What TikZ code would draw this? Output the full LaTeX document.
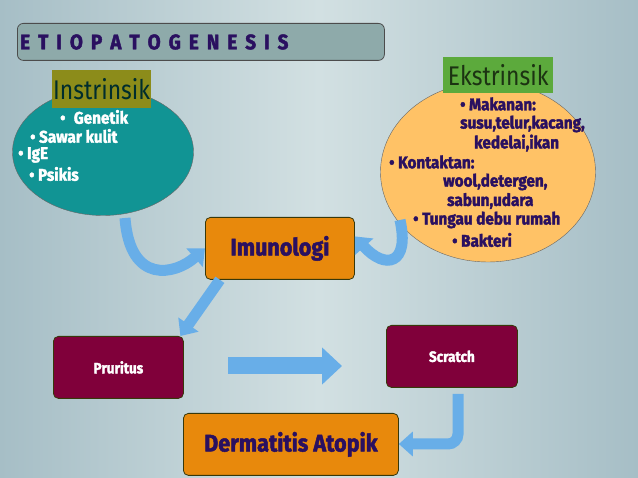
\documentclass[tikz,border=0pt]{standalone}
\usepackage{fontspec}
\setmainfont{Fira Sans}[BoldFeatures={FakeBold=2,FakeStretch=0.9},FakeStretch=0.85]
\usetikzlibrary{arrows.meta,shapes.geometric}
\definecolor{bgA}{HTML}{A6BEC6}
\definecolor{bgB}{HTML}{D2E0E2}
\definecolor{ttl}{HTML}{2A1060}
\definecolor{barc}{HTML}{8EAAAA}
\definecolor{olive}{HTML}{8C8C1A}
\definecolor{teal2}{HTML}{119494}
\definecolor{grn}{HTML}{5CAA3C}
\definecolor{peach}{HTML}{FFC266}
\definecolor{orng}{HTML}{E8890C}
\definecolor{maroon}{HTML}{80003A}
\definecolor{arr}{HTML}{68AEE8}
\tikzset{
 box/.style={draw=black!60!olive,line width=0.8pt,rounded corners=5pt,anchor=north west,inner sep=0pt},
 obox/.style={box,fill=orng},
 mbox/.style={box,fill=maroon},
 btxt/.style={text=ttl,font=\bfseries\fontsize{24}{24}\selectfont},
 mtxt/.style={text=white,font=\bfseries\fontsize{15}{15}\selectfont},
 barrow/.style={arr,line width=11pt,-{Triangle[width=24pt,length=14pt]}},
 wt/.style={text=white,font=\bfseries\fontsize{17}{17}\selectfont,anchor=west,inner sep=0pt},
 dt/.style={text=ttl,font=\bfseries\fontsize{17}{17}\selectfont,anchor=west,inner sep=0pt},
}
\begin{document}
\begin{tikzpicture}[x=1pt,y=-1pt]
\shade[left color=bgA,right color=bgA,middle color=bgB] (0,0) rectangle (638,478);
\useasboundingbox (0,0) rectangle (638,478);
% title
\node[draw=black!70,line width=0.8pt,fill=barc,rounded corners=6pt,anchor=north west,minimum width=367pt,minimum height=37pt,inner sep=0pt] (bar) at (17,23) {};
\node[anchor=west,inner sep=0pt,text=ttl,font=\bfseries\fontsize{21}{21}\selectfont] (ttl) at (20,42) {E\hspace{8pt}T\hspace{8pt}I\hspace{8pt}O\hspace{8pt}P\hspace{8pt}A\hspace{8pt}T\hspace{8pt}O\hspace{8pt}G\hspace{8pt}E\hspace{8pt}N\hspace{8pt}E\hspace{8pt}S\hspace{8pt}I\hspace{8pt}S};
% intrinsik
\node[ellipse,draw=black!60,fill=teal2,minimum width=181pt,minimum height=127pt] (ei) at (103,152) {};
\node[fill=olive,anchor=north west,minimum width=99pt,minimum height=38pt,inner sep=0pt,text=black!65!teal,font=\fontsize{27}{27}\selectfont] (li) at (52,70) {Instrinsik};
\node[wt] (i1) at (60,117) {•\; Genetik};
\node[wt] (i2) at (30,136) {• Sawar kulit};
\node[wt] (i3) at (18,155) {• IgE};
\node[wt] (i4) at (29,174) {• Psikis};
% ekstrinsik
\node[ellipse,draw=black!60,fill=peach,minimum width=215pt,minimum height=180pt] (ee) at (488,172) {};
\node[fill=grn,anchor=north west,minimum width=110pt,minimum height=36pt,inner sep=0pt,text=black!70!grn,font=\fontsize{27}{27}\selectfont] (le) at (443,57) {Ekstrinsik};
\node[dt] (e1) at (460,104) {• Makanan:};
\node[dt] (e2) at (460,124) {susu,telur,kacang,};
\node[dt] (e3) at (474,143) {kedelai,ikan};
\node[dt] (e4) at (389,162) {• Kontaktan:};
\node[dt] (e5) at (443,182) {wool,detergen,};
\node[dt] (e6) at (447,201) {sabun,udara};
\node[dt] (e7) at (413,220) {• Tungau debu rumah};
\node[dt] (e8) at (452,240) {• Bakteri};
% boxes
\node[obox,minimum width=149pt,minimum height=62pt] (imu) at (205,217) {};
\node[btxt] at (imu.center) {Imunologi};
\node[mbox,minimum width=130pt,minimum height=62pt] (pru) at (53,336) {};
\node[mtxt] at (pru.center) {Pruritus};
\node[mbox,minimum width=131pt,minimum height=62pt] (scr) at (386,325) {};
\node[mtxt,anchor=north] at ([yshift=-22pt]scr.north) {Scratch};
\node[obox,minimum width=215pt,minimum height=62pt] (der) at (183,413) {};
\node[btxt] at (der.center) {Dermatitis Atopik};
% arrows
\coordinate (a1) at (125,218);
\draw[barrow] (a1) .. controls (130,285) and (175,275) .. (imu.west);
\coordinate (a2) at (400,220);
\draw[barrow] (a2) .. controls (410,265) and (385,270) .. ([yshift=12pt]imu.east);
\draw[barrow] ([xshift=-60pt]imu.south) -- ([xshift=62pt]pru.north);
\coordinate (a4s) at (228,366);
\coordinate (a4e) at (342,366);
\draw[barrow,line width=17pt,-{Triangle[width=36pt,length=20pt]}] (a4s) -- (a4e);
\coordinate (a5) at (458,394);
\draw[barrow,rounded corners=10pt] (a5) -- (458,444) -- (der.east |- 0,444);
\end{tikzpicture}
\end{document}
